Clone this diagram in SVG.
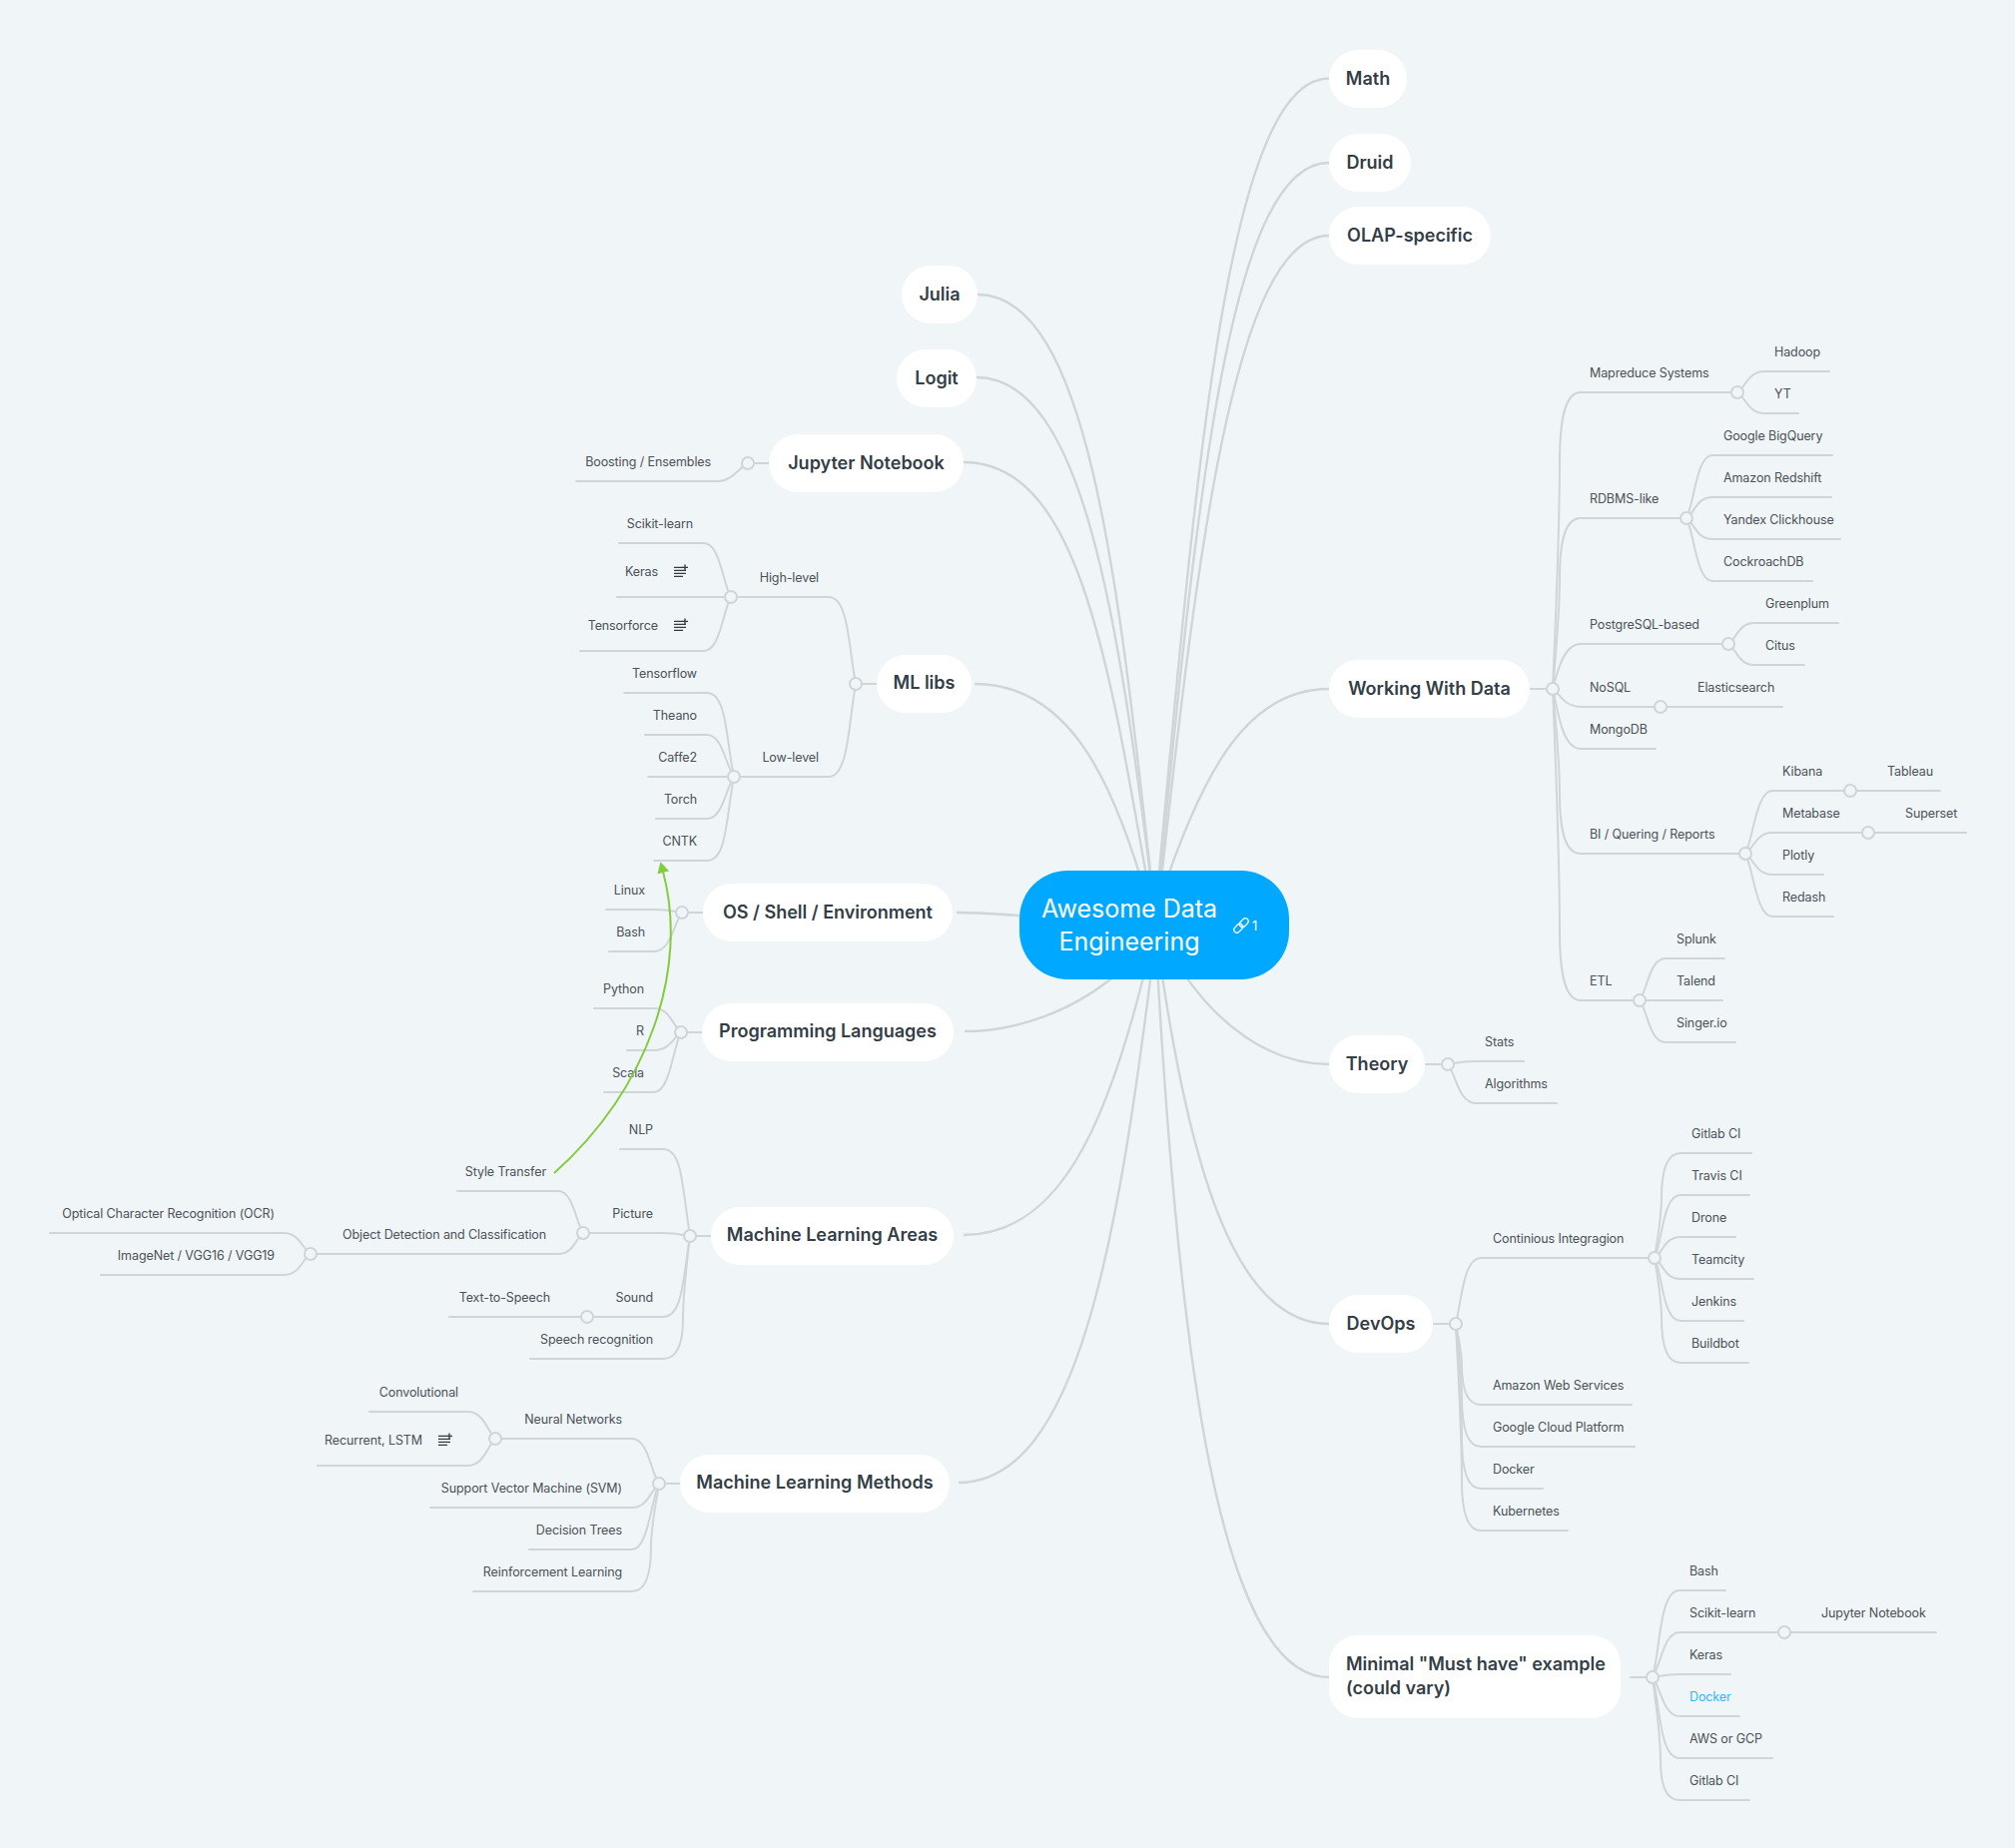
<svg xmlns="http://www.w3.org/2000/svg" xmlns:xlink="http://www.w3.org/1999/xlink" width="2018" height="1851" viewBox="0 0 2018 1851">
<style>
text{font-family:"Inter","Noto Sans",sans-serif}
.c{fill:none;stroke:#d0d5d8;stroke-width:2;stroke-linecap:round}
.m{fill:none;stroke:#d0d5d8;stroke-width:2.4}
.j{fill:#f0f5f7;stroke:#d0d5d8;stroke-width:2}
.n{fill:#fff}
.nt{font-size:18px;font-weight:600;fill:#333e47;text-anchor:middle}
.nl{font-size:18px;font-weight:600;fill:#333e47}
.s{font-size:12.5px;letter-spacing:-.1px;fill:#4b5258}
.r{font-size:12.5px;letter-spacing:-.1px;fill:#4b5258;text-anchor:end}
</style>
<defs>
<g id="note"><path d="M-6 -4H3M-6 -1H6M-6 2H6M-6 5H3" fill="none" stroke="#333c44" stroke-width="1.4"/><path d="M5 -7V-1M2 -4H8" fill="none" stroke="#333c44" stroke-width="1.4"/></g>
<marker id="arr" markerUnits="userSpaceOnUse" markerWidth="14" markerHeight="14" refX="1" refY="6" orient="auto"><path d="M0 0L11 6L0 12Z" fill="#84cc3f"/></marker>
</defs>
<rect width="2018" height="1851" fill="#f0f5f7"/>
<g id="connectors">
<path class="m" d="M1156 926C1196 500 1226 78.500 1331 78.500"/>
<path class="m" d="M1157 926C1197 520 1228 163 1331 163"/>
<path class="m" d="M1158 926C1198 560 1235 236 1331 236"/>
<path class="m" d="M1162 900C1205 770 1250 690 1331 690"/>
<path class="m" d="M1170 950C1215 1030 1275 1066 1331 1066"/>
<path class="m" d="M1160 950C1192 1180 1240 1326 1331 1326"/>
<path class="m" d="M1158 950C1180 1350 1220 1680 1331 1680"/>
<path class="m" d="M1155 900C1120 580 1090 295 979 295"/>
<path class="m" d="M1155 900C1120 620 1085 378 978 378"/>
<path class="m" d="M1152 900C1110 660 1080 463 965 463"/>
<path class="m" d="M1150 905C1115 780 1070 685 976 685"/>
<path class="m" d="M1021 917C1000 916 985 914 958 914"/>
<path class="m" d="M1125 970C1075 1015 1015 1033 966 1033"/>
<path class="m" d="M1152 950C1110 1130 1060 1237 965 1237"/>
<path class="m" d="M1156 950C1120 1240 1080 1485 960 1485"/>
<path class="c" d="M1533 690H1555M1428 1066H1450M1436 1326H1458M1633 1680H1655M755 464H770M857 685H878M683 914H704M682 1034H703M691 1238H712M660 1486H681"/>
<path class="c" d="M1555 690C1559 599 1562 531 1562 463C1562 421 1567 393 1583 393H1740"/>
<path class="c" d="M1555 690C1559 646 1562 612 1562 579C1562 543 1567 519 1583 519H1689"/>
<path class="c" d="M1555 690C1560 672 1566 645 1583 645H1731"/>
<path class="c" d="M1555 690C1562 694 1566 708 1583 708H1785"/>
<path class="c" d="M1555 690C1560 710 1564 750 1583 750H1658"/>
<path class="c" d="M1555 690C1559 732 1562 764 1562 795C1562 831 1567 855 1583 855H1748"/>
<path class="c" d="M1555 690C1559 787 1562 859 1562 932C1562 974 1567 1002 1583 1002H1642"/>
<path class="c" d="M1740 393C1748 388 1751 372 1767 372H1832"/>
<path class="c" d="M1740 393C1748 398 1751 414 1767 414H1801"/>
<path class="c" d="M1689 519C1697 503 1699 456 1715 456H1835"/>
<path class="c" d="M1689 519C1697 514 1699 498 1715 498H1834"/>
<path class="c" d="M1689 519C1697 524 1699 540 1715 540H1843"/>
<path class="c" d="M1689 519C1697 535 1699 582 1715 582H1815"/>
<path class="c" d="M1731 645C1739 640 1741 624 1757 624H1841"/>
<path class="c" d="M1731 645C1739 650 1741 666 1757 666H1807"/>
<path class="c" d="M1748 855C1756 839 1759 792 1775 792H1943"/>
<path class="c" d="M1748 855C1756 850 1759 834 1775 834H1969"/>
<path class="c" d="M1748 855C1756 860 1759 876 1775 876H1826"/>
<path class="c" d="M1748 855C1756 871 1759 918 1775 918H1836"/>
<path class="c" d="M1642 1002C1650 991 1652 960 1668 960H1727"/>
<path class="c" d="M1642 1002H1725"/>
<path class="c" d="M1642 1002C1650 1012 1652 1044 1668 1044H1738"/>
<path class="c" d="M1450 1066C1458 1065 1461 1063 1478 1063H1526"/>
<path class="c" d="M1450 1066C1458 1076 1461 1105 1478 1105H1559"/>
<path class="c" d="M1458 1326C1464 1300 1466 1260 1483 1260H1657"/>
<path class="c" d="M1458 1326C1461 1342 1464 1355 1464 1367C1464 1391 1469 1407 1483 1407H1634"/>
<path class="c" d="M1458 1326C1461 1355 1464 1377 1464 1399C1464 1429 1469 1449 1483 1449H1637"/>
<path class="c" d="M1458 1326C1461 1372 1464 1406 1464 1441C1464 1471 1469 1491 1483 1491H1545"/>
<path class="c" d="M1458 1326C1461 1389 1464 1436 1464 1483C1464 1513 1469 1533 1483 1533H1570"/>
<path class="c" d="M1657 1260C1661 1236 1664 1218 1664 1200C1664 1173 1669 1155 1683 1155H1754"/>
<path class="c" d="M1657 1260C1665 1244 1665 1197 1683 1197H1752"/>
<path class="c" d="M1657 1260C1665 1255 1667 1239 1683 1239H1738"/>
<path class="c" d="M1657 1260C1665 1265 1667 1281 1683 1281H1756"/>
<path class="c" d="M1657 1260C1665 1276 1665 1323 1683 1323H1746"/>
<path class="c" d="M1657 1260C1661 1284 1664 1302 1664 1320C1664 1347 1669 1365 1683 1365H1751"/>
<path class="c" d="M1655 1680C1663 1650 1662 1593 1682 1593H1728"/>
<path class="c" d="M1655 1680C1663 1669 1666 1635 1682 1635H1939"/>
<path class="c" d="M1655 1680C1663 1679 1666 1677 1682 1677H1733"/>
<path class="c" d="M1655 1680C1663 1690 1666 1719 1682 1719H1742"/>
<path class="c" d="M1655 1680C1663 1710 1662 1761 1682 1761H1775"/>
<path class="c" d="M1655 1680C1659 1713 1663 1738 1663 1763C1663 1787 1668 1803 1682 1803H1752"/>
<path class="c" d="M749 464C741 468 732 482 720 482H577"/>
<path class="c" d="M857 685C850 650 850 598 830 598H732"/>
<path class="c" d="M857 685C850 722 850 778 830 778H735"/>
<path class="c" d="M732 598C724 585 721 544 705 544H620"/>
<path class="c" d="M732 598H618"/>
<path class="c" d="M732 598C724 612 721 652 705 652H581"/>
<path class="c" d="M735 778C727 740 728 694 708 694H625"/>
<path class="c" d="M735 778C727 768 724 736 708 736H646"/>
<path class="c" d="M735 778H649"/>
<path class="c" d="M735 778C727 789 724 820 708 820H657"/>
<path class="c" d="M735 778C727 820 728 862 708 862H655"/>
<path class="c" d="M683 914C675 913 672 911 655 911H607"/>
<path class="c" d="M683 914C675 924 672 953 655 953H610"/>
<path class="c" d="M682 1034C674 1028 671 1010 655 1010H595"/>
<path class="c" d="M682 1034C674 1039 671 1052 655 1052H628"/>
<path class="c" d="M682 1034C674 1049 671 1094 655 1094H605"/>
<path class="c" d="M691 1238C683 1190 684 1151 664 1151H621"/>
<path class="c" d="M691 1238C683 1237 680 1235 664 1235H584"/>
<path class="c" d="M691 1238C684 1280 684 1319 664 1319H450"/>
<path class="c" d="M691 1238C687 1271 684 1296 684 1321C684 1345 679 1361 664 1361H531"/>
<path class="c" d="M584 1235C577 1225 574 1193 559 1193H458"/>
<path class="c" d="M584 1235C577 1240 574 1256 559 1256H311"/>
<path class="c" d="M311 1256C303 1251 300 1235 284 1235H50"/>
<path class="c" d="M311 1256C303 1261 300 1277 284 1277H101"/>
<path class="c" d="M660 1486C652 1475 649 1441 633 1441H496"/>
<path class="c" d="M660 1486C652 1492 649 1510 633 1510H431"/>
<path class="c" d="M660 1486C652 1503 649 1552 633 1552H530"/>
<path class="c" d="M660 1486C656 1511 652 1530 652 1549C652 1576 647 1594 633 1594H474"/>
<path class="c" d="M496 1441C488 1434 485 1414 468 1414H370"/>
<path class="c" d="M496 1441C488 1448 485 1468 468 1468H318"/>
<circle class="j" cx="1555" cy="690" r="6"/><circle class="j" cx="1740" cy="393" r="6"/><circle class="j" cx="1689" cy="519" r="6"/><circle class="j" cx="1731" cy="645" r="6"/><circle class="j" cx="1663" cy="708" r="6"/><circle class="j" cx="1748" cy="855" r="6"/><circle class="j" cx="1853" cy="792" r="6"/><circle class="j" cx="1871" cy="834" r="6"/><circle class="j" cx="1642" cy="1002" r="6"/><circle class="j" cx="1450" cy="1066" r="6"/><circle class="j" cx="1458" cy="1326" r="6"/><circle class="j" cx="1657" cy="1260" r="6"/><circle class="j" cx="1655" cy="1680" r="6"/><circle class="j" cx="1787" cy="1635" r="6"/><circle class="j" cx="749" cy="464" r="6"/><circle class="j" cx="857" cy="685" r="6"/><circle class="j" cx="732" cy="598" r="6"/><circle class="j" cx="735" cy="778" r="6"/><circle class="j" cx="683" cy="914" r="6"/><circle class="j" cx="682" cy="1034" r="6"/><circle class="j" cx="691" cy="1238" r="6"/><circle class="j" cx="584" cy="1235" r="6"/><circle class="j" cx="311" cy="1256" r="6"/><circle class="j" cx="588" cy="1319" r="6"/><circle class="j" cx="660" cy="1486" r="6"/><circle class="j" cx="496" cy="1441" r="6"/>
</g>
<g id="root"><rect x="1021" y="872" width="270" height="109" rx="48" fill="#00a9ff"/><text x="1131" y="919" font-size="25" fill="#fff" text-anchor="middle">Awesome Data</text><text x="1131" y="952" font-size="25" fill="#fff" text-anchor="middle">Engineering</text><g fill="none" stroke="#fff" stroke-width="1.3" transform="rotate(-45 1243 927)"><rect x="1234" y="924" width="10" height="6" rx="3"/><rect x="1242" y="924" width="10" height="6" rx="3"/></g><text x="1254" y="932" font-size="13" fill="#fff">1</text></g>
<g id="math"><rect class="n" x="1331" y="50" width="78" height="58" rx="29"/><text class="nt" x="1370" y="85">Math</text></g>
<g id="druid"><rect class="n" x="1331" y="134" width="82" height="58" rx="29"/><text class="nt" x="1372" y="169">Druid</text></g>
<g id="olap"><rect class="n" x="1331" y="207" width="162" height="58" rx="29"/><text class="nt" x="1412" y="242">OLAP-specific</text></g>
<g id="working"><rect class="n" x="1331" y="661" width="201" height="58" rx="29"/><text class="nt" x="1431.500" y="696">Working With Data</text></g>
<g id="theory"><rect class="n" x="1331" y="1037" width="96" height="58" rx="29"/><text class="nt" x="1379" y="1072">Theory</text></g>
<g id="devops"><rect class="n" x="1331" y="1297" width="104" height="58" rx="29"/><text class="nt" x="1383" y="1332">DevOps</text></g>
<g id="minimal"><rect class="n" x="1331" y="1638" width="292" height="83" rx="29"/><text class="nl" x="1348" y="1673">Minimal "Must have" example</text><text class="nl" x="1348" y="1697">(could vary)</text></g>
<g id="julia"><rect class="n" x="903" y="266" width="76" height="58" rx="29"/><text class="nt" x="941" y="301">Julia</text></g>
<g id="logit"><rect class="n" x="898" y="350" width="80" height="58" rx="29"/><text class="nt" x="938" y="385">Logit</text></g>
<g id="jupyter"><rect class="n" x="770" y="435" width="195" height="58" rx="29"/><text class="nt" x="867.500" y="470">Jupyter Notebook</text></g>
<g id="mllibs"><rect class="n" x="878" y="656" width="95" height="58" rx="29"/><text class="nt" x="925.500" y="690">ML libs</text></g>
<g id="os"><rect class="n" x="704" y="885" width="250" height="58" rx="29"/><text class="nt" x="829" y="920">OS / Shell / Environment</text></g>
<g id="prog"><rect class="n" x="703" y="1005" width="252" height="58" rx="29"/><text class="nt" x="829" y="1039">Programming Languages</text></g>
<g id="areas"><rect class="n" x="712" y="1209" width="243" height="58" rx="29"/><text class="nt" x="833.500" y="1243">Machine Learning Areas</text></g>
<g id="methods"><rect class="n" x="681" y="1457" width="270" height="58" rx="29"/><text class="nt" x="816" y="1491">Machine Learning Methods</text></g>
<g id="working-children" transform="translate(0 -.6)">
<text class="s" x="1592" y="379">Mapreduce Systems</text><text class="s" x="1777" y="358">Hadoop</text><text class="s" x="1777" y="400">YT</text>
<text class="s" x="1592" y="505">RDBMS-like</text><text class="s" x="1726" y="442">Google BigQuery</text><text class="s" x="1726" y="484">Amazon Redshift</text><text class="s" x="1726" y="526">Yandex Clickhouse</text><text class="s" x="1726" y="568">CockroachDB</text>
<text class="s" x="1592" y="631">PostgreSQL-based</text><text class="s" x="1768" y="610">Greenplum</text><text class="s" x="1768" y="652">Citus</text>
<text class="s" x="1592" y="694">NoSQL</text><text class="s" x="1700" y="694">Elasticsearch</text><text class="s" x="1592" y="736">MongoDB</text>
<text class="s" x="1592" y="841">BI / Quering / Reports</text><text class="s" x="1785" y="778">Kibana</text><text class="s" x="1890" y="778">Tableau</text><text class="s" x="1785" y="820">Metabase</text><text class="s" x="1908" y="820">Superset</text><text class="s" x="1785" y="862">Plotly</text><text class="s" x="1785" y="904">Redash</text>
<text class="s" x="1592" y="988">ETL</text><text class="s" x="1679" y="946">Splunk</text><text class="s" x="1679" y="988">Talend</text><text class="s" x="1679" y="1030">Singer.io</text>
</g>
<g id="theory-children" transform="translate(0 -.6)"><text class="s" x="1487" y="1049">Stats</text><text class="s" x="1487" y="1091">Algorithms</text></g>
<g id="devops-children" transform="translate(0 -.6)">
<text class="s" x="1495" y="1246">Continious Integragion</text><text class="s" x="1694" y="1141">Gitlab CI</text><text class="s" x="1694" y="1183">Travis CI</text><text class="s" x="1694" y="1225">Drone</text><text class="s" x="1694" y="1267">Teamcity</text><text class="s" x="1694" y="1309">Jenkins</text><text class="s" x="1694" y="1351">Buildbot</text>
<text class="s" x="1495" y="1393">Amazon Web Services</text><text class="s" x="1495" y="1435">Google Cloud Platform</text><text class="s" x="1495" y="1477">Docker</text><text class="s" x="1495" y="1519">Kubernetes</text>
</g>
<g id="minimal-children" transform="translate(0 -.6)">
<text class="s" x="1692" y="1579">Bash</text><text class="s" x="1692" y="1621">Scikit-learn</text><text class="s" x="1824" y="1621">Jupyter Notebook</text><text class="s" x="1692" y="1663">Keras</text><text class="s" x="1692" y="1705" style="fill:#33b5ff">Docker</text><text class="s" x="1692" y="1747">AWS or GCP</text><text class="s" x="1692" y="1789">Gitlab CI</text>
</g>
<g id="jupyter-children" transform="translate(0 -.6)"><text class="r" x="712" y="468">Boosting / Ensembles</text></g>
<g id="ml-children" transform="translate(0 -.6)">
<text class="r" x="820" y="584">High-level</text><text class="r" x="820" y="764">Low-level</text>
<text class="r" x="694" y="530">Scikit-learn</text><text class="r" x="659" y="578">Keras</text><use xlink:href="#note" href="#note" x="681" y="573"/><text class="r" x="659" y="632">Tensorforce</text><use xlink:href="#note" href="#note" x="681" y="627"/>
<text class="r" x="698" y="680">Tensorflow</text><text class="r" x="698" y="722">Theano</text><text class="r" x="698" y="764">Caffe2</text><text class="r" x="698" y="806">Torch</text><text class="r" x="698" y="848">CNTK</text>
</g>
<g id="os-children" transform="translate(0 -.6)"><text class="r" x="646" y="897">Linux</text><text class="r" x="646" y="939">Bash</text></g>
<g id="prog-children" transform="translate(0 -.6)"><text class="r" x="645" y="996">Python</text><text class="r" x="645" y="1038">R</text><text class="r" x="645" y="1080">Scala</text></g>
<g id="areas-children" transform="translate(0 -.6)">
<text class="r" x="654" y="1137">NLP</text><text class="r" x="654" y="1221">Picture</text><text class="r" x="547" y="1179">Style Transfer</text><text class="r" x="547" y="1242">Object Detection and Classification</text><text class="r" x="275" y="1221">Optical Character Recognition (OCR)</text><text class="r" x="275" y="1263">ImageNet / VGG16 / VGG19</text><text class="r" x="654" y="1305">Sound</text><text class="r" x="551" y="1305">Text-to-Speech</text><text class="r" x="654" y="1347">Speech recognition</text>
</g>
<g id="methods-children" transform="translate(0 -.6)">
<text class="r" x="623" y="1427">Neural Networks</text><text class="r" x="459" y="1400">Convolutional</text><text class="r" x="423" y="1448">Recurrent, LSTM</text><use xlink:href="#note" href="#note" x="445" y="1443"/><text class="r" x="623" y="1496">Support Vector Machine (SVM)</text><text class="r" x="623" y="1538">Decision Trees</text><text class="r" x="623" y="1580">Reinforcement Learning</text>
</g>
<g id="relationship"><path d="M555 1175C650 1090 690 970 664 873" fill="none" stroke="#84cc3f" stroke-width="2" marker-end="url(#arr)"/></g>
</svg>
